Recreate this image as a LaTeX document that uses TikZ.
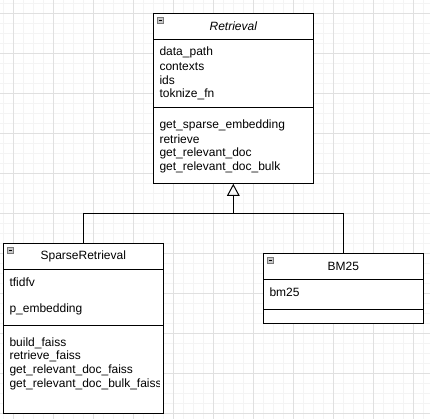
\documentclass[tikz,border=0pt]{standalone}
\usepackage{fontspec}
\setmainfont{Liberation Sans}
\usetikzlibrary{arrows.meta}
\definecolor{gridmajor}{HTML}{E0E0E0}
\definecolor{gridminor}{HTML}{F4F4F4}
\definecolor{icongray}{HTML}{C8C8C8}
\definecolor{iconborder}{HTML}{7A7A7A}
\tikzset{
  umlbox/.style={draw=black, fill=white, line width=0.75pt, inner sep=0pt, anchor=center},
  sep/.style={draw=black, line width=0.75pt},
  member/.style={anchor=west, inner sep=0pt, font=\fontsize{9pt}{10.5pt}\selectfont},
  title/.style={anchor=center, inner sep=0pt, font=\fontsize{9pt}{10.5pt}\selectfont},
  conn/.style={draw=black, line width=0.75pt},
  icon/.style={draw=iconborder, fill=icongray, line width=0.5pt},
}
\newcommand{\collapseicon}[2]{%
  \draw[icon] (#1,#2) rectangle ++(6,6);
  \draw[black, line width=0.75pt] (#1+1.3,#2+3) -- ++(3.4,0);
}
\begin{document}
\begin{tikzpicture}[x=0.75pt, y=-0.75pt]
\useasboundingbox (0,0) rectangle (430,419);
\fill[white] (0,0) rectangle (430,419);
% grid
\foreach \g in {3.3,13.3,...,433} {
  \draw[gridminor, line width=0.75pt] (\g,0) -- (\g,419);
  \draw[gridminor, line width=0.75pt] (0,\g) -- (430,\g);
}
\foreach \g in {13.3,53.3,...,433} {
  \draw[gridmajor, line width=0.75pt] (\g,0) -- (\g,419);
  \draw[gridmajor, line width=0.75pt] (0,\g) -- (430,\g);
}

% Retrieval
\node[umlbox, minimum width=120pt, minimum height=127.5pt] (retr) at (233.3,98.3) {};
\draw[sep] (153.3,39.3) -- (313.3,39.3);
\draw[sep] (153.3,107.3) -- (313.3,107.3);
\collapseicon{157.3}{17.8}
\node[title, font=\fontsize{9pt}{10.5pt}\selectfont\itshape] (retrtitle) at (233.3,26.3) {Retrieval};
\node[member] (r1) at (159.3,52.7) {data\_path};
\node[member] (r2) at (159.3,66.7) {contexts};
\node[member] (r3) at (159.3,80.7) {ids};
\node[member] (r4) at (159.3,94.7) {toknize\_fn};
\node[member] (r5) at (159.3,125.3) {get\_sparse\_embedding};
\node[member] (r6) at (159.3,139.3) {retrieve};
\node[member] (r7) at (159.3,153.3) {get\_relevant\_doc};
\node[member] (r8) at (159.3,167.3) {get\_relevant\_doc\_bulk};

% SparseRetrieval
\node[umlbox, minimum width=120pt, minimum height=127.5pt] (sparse) at (83.3,328.3) {};
\draw[sep] (3.3,269.3) -- (163.3,269.3);
\draw[sep] (3.3,325.3) -- (163.3,325.3);
\collapseicon{7.3}{247.8}
\node[title] (sparsetitle) at (83.3,256.7) {SparseRetrieval};
\node[member] (s1) at (9.3,282.7) {tfidfv};
\node[member] (s2) at (9.3,309) {p\_embedding};
\node[member] (s3) at (9.3,343) {build\_faiss};
\node[member] (s4) at (9.3,356.8) {retrieve\_faiss};
\node[member] (s5) at (9.3,370.6) {get\_relevant\_doc\_faiss};
\begin{scope}
\clip (3.3,360) rectangle (159.8,400);
\node[member] (s6) at (9.3,384.4) {get\_relevant\_doc\_bulk\_faiss};
\end{scope}

% BM25
\node[umlbox, minimum width=120pt, minimum height=52.5pt] (bm) at (343.3,288.3) {};
\draw[sep] (263.3,279.3) -- (423.3,279.3);
\draw[sep] (263.3,309.3) -- (423.3,309.3);
\collapseicon{267.3}{257.8}
\node[title] (bmtitle) at (343.3,266.7) {BM25};
\node[member] (b1) at (269.3,292.7) {bm25};

% generalization connectors
\coordinate (j) at (233.3,213.3);
\draw[conn, -{Triangle[open, length=9pt, width=9.5pt, line width=0.75pt]}] (sparse.north) |- (j) -- (retr.south);
\draw[conn] (bm.north) |- (j);
\end{tikzpicture}
\end{document}
